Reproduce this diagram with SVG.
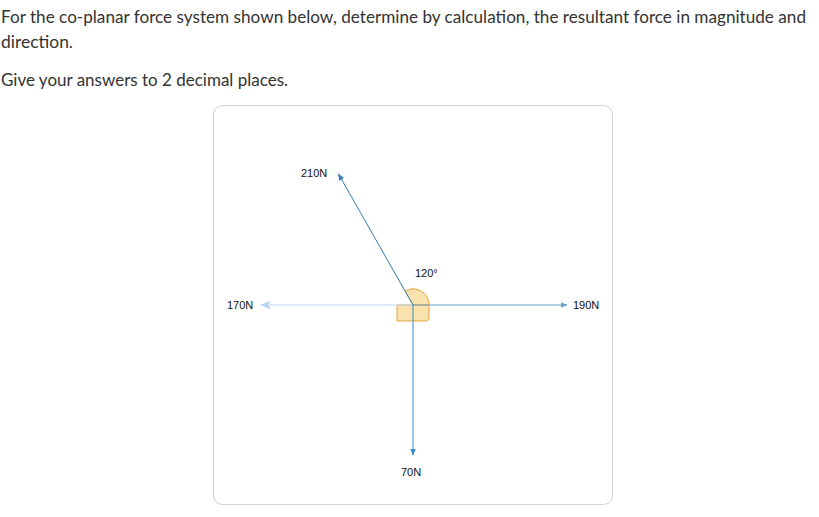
<svg xmlns="http://www.w3.org/2000/svg" width="819" height="517" viewBox="0 0 819 517">
<style>
.q{font-family:"Lato","Open Sans",sans-serif;font-size:16.5px;fill:#333}
.l{font-family:"Liberation Sans",Arial,sans-serif;font-size:11px;fill:#111}
.ln{fill:none;stroke-width:1}
</style>
<defs>
<marker id="ah" viewBox="0 0 10 10" refX="9" refY="5" markerWidth="7" markerHeight="7" orient="auto" markerUnits="userSpaceOnUse"><path d="M0,1 L10,5 L0,9 Z" fill="context-stroke"/></marker>
<marker id="ahb" viewBox="0 0 10 10" refX="9" refY="5" markerWidth="11" markerHeight="11" orient="auto" markerUnits="userSpaceOnUse"><path d="M0,1 L10,5 L0,9 L2.5,5 Z" fill="context-stroke"/></marker>
</defs>
<rect width="819" height="517" fill="#fff"/>
<g id="question">
<text class="q" x="1" y="23" textLength="805" lengthAdjust="spacingAndGlyphs">For the co-planar force system shown below, determine by calculation, the resultant force in magnitude and</text>
<text class="q" x="1" y="48" textLength="72" lengthAdjust="spacingAndGlyphs">direction.</text>
<text class="q" x="1" y="86" textLength="287" lengthAdjust="spacingAndGlyphs">Give your answers to 2 decimal places.</text>
</g>
<rect id="frame" x="213.5" y="105.5" width="399" height="399" rx="9" fill="#fff" stroke="#d0d0d0"/>
<g id="angle">
<path d="M413,305 L429,305 A16,16 0 0 0 405,291.1 Z" fill="#f9e2ae" stroke="#e6a640"/>
<path d="M397,305 L429,305 L429,318 Q429,321 426,321 L397,321 Z" fill="#f9e2ae" stroke="#e6a640"/>
</g>
<g id="connectors">
<line class="ln" x1="413" y1="305" x2="261" y2="305" stroke="#b7d3f5" stroke-width="2.5" marker-end="url(#ahb)"/>
<line class="ln" x1="413" y1="305" x2="567" y2="305" stroke="#6aa3cf" marker-end="url(#ah)"/>
<line class="ln" x1="413" y1="305" x2="413" y2="455" stroke="#3d8dc4" marker-end="url(#ah)"/>
<line class="ln" x1="413" y1="305" x2="338.5" y2="174" stroke="#2f7fb6" marker-end="url(#ah)"/>
</g>
<g id="labels">
<text class="l" x="301" y="177">210N</text>
<text class="l" x="415" y="277">120°</text>
<text class="l" x="227" y="309">170N</text>
<text class="l" x="573" y="309">190N</text>
<text class="l" x="401" y="476">70N</text>
</g>
</svg>
